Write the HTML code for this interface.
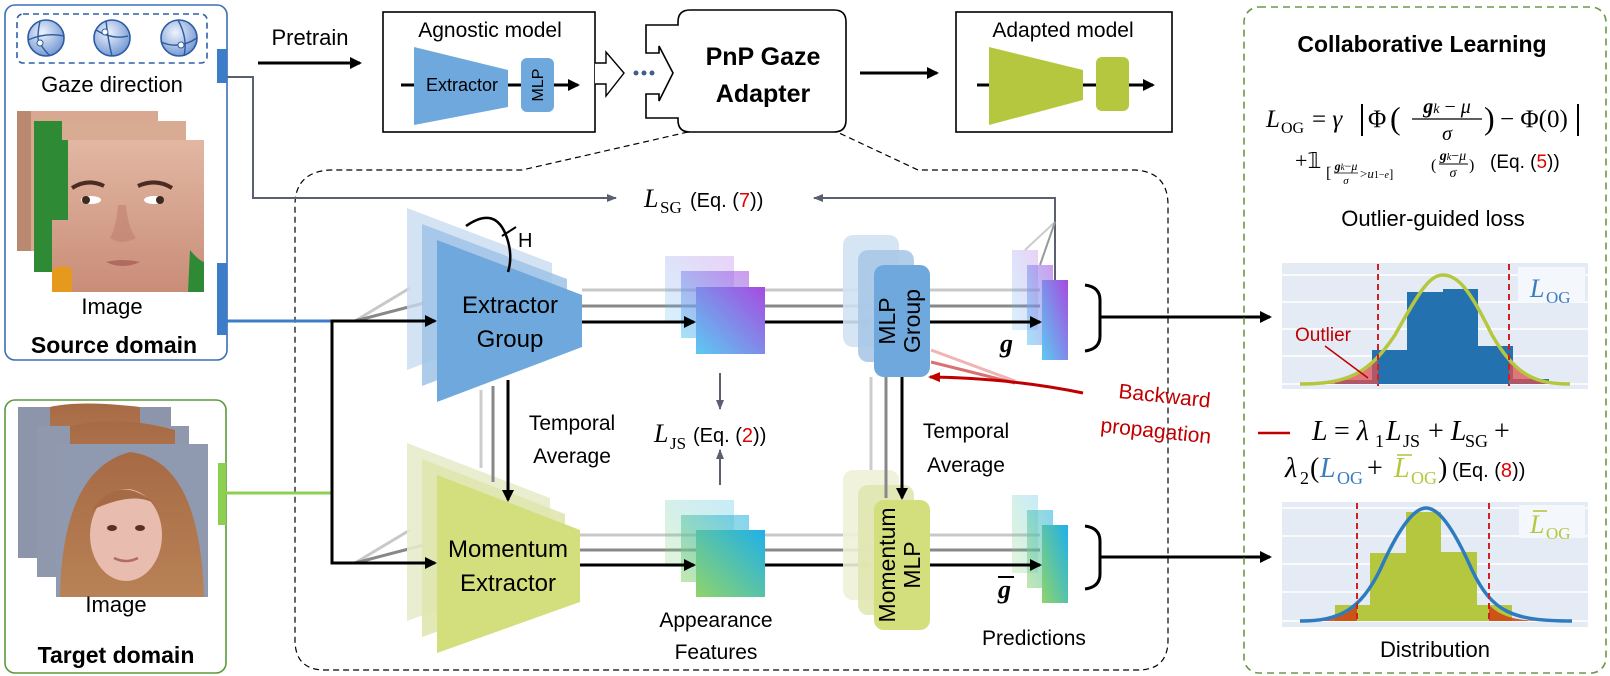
<!DOCTYPE html>
<html><head><meta charset="utf-8"><style>
html,body{margin:0;padding:0;background:#fff;}
svg{display:block;}
.s{font-family:"Liberation Sans",sans-serif;}
.m{font-family:"Liberation Serif",serif;font-style:italic;}
.r{font-family:"Liberation Serif",serif;}
</style></head><body>
<svg width="1610" height="676" viewBox="0 0 1610 676" xmlns="http://www.w3.org/2000/svg">
<defs>
<marker id="ab" markerWidth="12" markerHeight="12" refX="10" refY="6" orient="auto" markerUnits="userSpaceOnUse"><path d="M0,0 L12,6 L0,12 Z" fill="#000"/></marker>
<marker id="ag" markerWidth="10" markerHeight="10" refX="9" refY="5" orient="auto" markerUnits="userSpaceOnUse"><path d="M0,1 L10,5 L0,9 Z" fill="#5a6070"/></marker>
<marker id="ar" markerWidth="12" markerHeight="10" refX="10" refY="5" orient="auto" markerUnits="userSpaceOnUse"><path d="M0,0 L12,5 L0,10 Z" fill="#c00000"/></marker>
<linearGradient id="gp" x1="0" y1="1" x2="1" y2="0"><stop offset="0" stop-color="#5ccaf2"/><stop offset="1" stop-color="#a64be0"/></linearGradient>
<linearGradient id="gg" x1="0" y1="1" x2="1" y2="0"><stop offset="0" stop-color="#8fd46a"/><stop offset="1" stop-color="#1fb0ea"/></linearGradient>
<radialGradient id="sph" cx="0.4" cy="0.35" r="0.7"><stop offset="0" stop-color="#eef3fb"/><stop offset="1" stop-color="#6f95d2"/></radialGradient>
<linearGradient id="skin" x1="0" y1="0" x2="0" y2="1"><stop offset="0" stop-color="#e2b7a2"/><stop offset="1" stop-color="#c98d78"/></linearGradient>
<linearGradient id="hair" x1="0" y1="0" x2="0" y2="1"><stop offset="0" stop-color="#a66a45"/><stop offset="1" stop-color="#b98256"/></linearGradient>
</defs>

<!-- Source domain -->
<rect x="5" y="5" width="222" height="355" rx="10" fill="#fff" stroke="#3b6eb5" stroke-width="1.6"/>
<rect x="17" y="14" width="190" height="49" rx="6" fill="none" stroke="#2f5fa8" stroke-width="1.6" stroke-dasharray="6,4"/>
<g stroke="#2d5aa0" stroke-width="1.6" fill="url(#sph)">
<circle cx="46" cy="38" r="18"/><circle cx="112" cy="38" r="18"/><circle cx="179" cy="38" r="18"/></g>
<g stroke="#2d5aa0" stroke-width="1.4" fill="none">
<path d="M28,40 Q46,32 64,36"/><path d="M40,21 Q36,40 40,44 Q46,52 50,56"/>
<path d="M96,30 Q112,40 128,36"/><path d="M106,21 Q108,40 112,56"/>
<path d="M161,42 Q179,50 197,38"/><path d="M178,20 Q188,38 184,56"/></g>
<g fill="#fff" stroke="#2d5aa0" stroke-width="1"><circle cx="40" cy="43" r="3"/><circle cx="105" cy="32" r="3"/><circle cx="181" cy="45" r="3"/></g>
<text x="112" y="92" class="s" font-size="22" text-anchor="middle">Gaze direction</text>
<!-- faces -->
<rect x="17" y="111" width="141" height="140" fill="#d8a990"/>
<rect x="17" y="111" width="14" height="140" fill="#b98a70"/>
<rect x="34" y="121" width="152" height="151" fill="#d8ab93"/>
<rect x="34" y="121" width="28" height="151" fill="#2e8a34"/>
<rect x="52" y="140" width="152" height="152" fill="url(#skin)"/>
<path d="M52,140 H68 V220 H52 Z" fill="#2e8a34"/>
<path d="M52,270 Q64,262 72,270 V292 H52 Z" fill="#e59a1e"/>
<path d="M190,250 Q198,260 204,262 V292 H188 Z" fill="#2e8a34"/>
<path d="M72,188 Q88,178 104,186" stroke="#4a2c22" stroke-width="4" fill="none"/>
<path d="M138,186 Q156,178 172,188" stroke="#4a2c22" stroke-width="4" fill="none"/>
<ellipse cx="91" cy="200" rx="10" ry="4" fill="#fff"/><circle cx="86" cy="200" r="4" fill="#3a2a20"/>
<ellipse cx="154" cy="200" rx="10" ry="4" fill="#fff"/><circle cx="160" cy="200" r="4" fill="#3a2a20"/>
<path d="M118,205 Q116,228 110,238 Q122,246 136,238 Q128,228 126,205" fill="#c08070" opacity="0.6"/>
<path d="M106,262 Q122,258 140,262 Q122,270 106,262 Z" fill="#b06a62"/>
<text x="112" y="314" class="s" font-size="22" text-anchor="middle">Image</text>
<text x="114" y="353" class="s" font-size="23" font-weight="bold" text-anchor="middle">Source domain</text>
<rect x="217" y="49" width="10" height="34" fill="#3d7cc9"/>
<rect x="217" y="263" width="10" height="72" fill="#3d7cc9"/>

<!-- Target domain -->
<rect x="5" y="400" width="221" height="273" rx="10" fill="#fff" stroke="#5a9a3a" stroke-width="1.6"/>
<rect x="18" y="407" width="153" height="151" fill="#8c95aa"/>
<path d="M50,407 Q80,400 140,407 V470 H50 Z" fill="url(#hair)"/>
<rect x="37" y="426" width="152" height="151" fill="#8f98ad"/>
<path d="M70,426 Q120,415 175,430 V500 H70 Z" fill="url(#hair)"/>
<rect x="56" y="444" width="152" height="153" fill="#8f9ab0"/>
<path d="M60,597 Q62,470 130,452 Q200,460 204,597 Z" fill="url(#hair)"/>
<ellipse cx="126" cy="535" rx="36" ry="46" fill="#e8bcae"/>
<path d="M92,510 Q120,470 160,508 Q140,488 92,510 Z" fill="#a66a45"/>
<ellipse cx="112" cy="528" rx="5" ry="3" fill="#5a3020"/><ellipse cx="140" cy="528" rx="5" ry="3" fill="#5a3020"/>
<path d="M114,558 Q126,564 138,558" stroke="#b06a6a" stroke-width="2.5" fill="none"/>
<text x="116" y="612" class="s" font-size="22" text-anchor="middle">Image</text>
<text x="116" y="663" class="s" font-size="23" font-weight="bold" text-anchor="middle">Target domain</text>
<rect x="218" y="463" width="8" height="62" fill="#8cd050"/>

<!-- top row -->
<text x="310" y="45" class="s" font-size="22" text-anchor="middle">Pretrain</text>
<line x1="258" y1="63" x2="360" y2="63" stroke="#000" stroke-width="3" marker-end="url(#ab)"/>
<rect x="383" y="12" width="212" height="120" fill="#fff" stroke="#000" stroke-width="1.6"/>
<text x="490" y="37" class="s" font-size="21" text-anchor="middle">Agnostic model</text>
<line x1="401" y1="85" x2="578" y2="85" stroke="#000" stroke-width="3" marker-end="url(#ab)"/>
<path d="M414,47 L508,70 L508,107 L414,125 Z" fill="#6fa8dc"/>
<text x="462" y="91" class="s" font-size="18" text-anchor="middle">Extractor</text>
<rect x="521" y="58" width="33" height="54" rx="6" fill="#6fa8dc"/>
<text x="0" y="0" class="s" font-size="16" text-anchor="middle" transform="translate(543,85) rotate(-90)">MLP</text>
<path d="M595,63 H606 V52 L624,73 L606,96 V84 H595" fill="#fff" stroke="#000" stroke-width="1.4"/>
<g fill="#3e5f8a"><circle cx="636" cy="73" r="2.5"/><circle cx="644" cy="73" r="2.5"/><circle cx="652" cy="73" r="2.5"/></g>
<path d="M690,10 H834 Q846,10 846,22 V120 Q846,132 834,132 H690 Q678,132 678,120 V118 H646 V94 H659 V101 L673,73 L659,46 V53 H646 V25 H678 V22 Q678,10 690,10 Z" fill="#fff" stroke="#000" stroke-width="1.6"/>
<text x="763" y="65" class="s" font-size="25" font-weight="bold" text-anchor="middle">PnP Gaze</text>
<text x="763" y="102" class="s" font-size="25" font-weight="bold" text-anchor="middle">Adapter</text>
<line x1="860" y1="73" x2="937" y2="73" stroke="#000" stroke-width="3" marker-end="url(#ab)"/>
<rect x="956" y="12" width="216" height="120" fill="#fff" stroke="#000" stroke-width="1.6"/>
<text x="1063" y="37" class="s" font-size="21" text-anchor="middle">Adapted model</text>
<line x1="977" y1="85" x2="1153" y2="85" stroke="#000" stroke-width="3" marker-end="url(#ab)"/>
<path d="M989,47 L1083,70 L1083,100 L989,125 Z" fill="#b5c73f"/>
<rect x="1096" y="57" width="33" height="54" rx="6" fill="#b5c73f"/>

<!-- big dashed region -->
<path d="M688,132 L522,170 H330 Q295,172 295,205 V640 Q295,670 325,670 H1138 Q1168,670 1168,640 V205 Q1168,172 1135,170 H918 L837,132" fill="none" stroke="#000" stroke-width="1.2" stroke-dasharray="6,4"/>

<!-- LSG line -->
<polyline points="227,77 253,77 253,198 616,198" fill="none" stroke="#5a6070" stroke-width="2" marker-end="url(#ag)"/>
<text x="644" y="207" class="m" font-size="26">L</text>
<text x="660" y="213" class="r" font-size="17">SG</text>
<text x="690" y="207" class="s" font-size="20">(Eq. (<tspan fill="#e00000">7</tspan>))</text>
<polyline points="1055,280 1055,198 814,198" fill="none" stroke="#5a6070" stroke-width="2" marker-end="url(#ag)"/>
<line x1="1055" y1="222" x2="1025" y2="250" stroke="#ccc" stroke-width="2"/>
<line x1="1055" y1="222" x2="1040" y2="265" stroke="#999" stroke-width="2"/>

<!-- input lines -->
<line x1="227" y1="321" x2="332" y2="321" stroke="#3d7cc9" stroke-width="3"/>
<line x1="226" y1="493" x2="332" y2="493" stroke="#8cd050" stroke-width="3"/>
<line x1="332" y1="319.5" x2="332" y2="564.5" stroke="#000" stroke-width="3"/>
<line x1="355" y1="321" x2="410" y2="288" stroke="#c8c8c8" stroke-width="3"/>
<line x1="355" y1="321" x2="424" y2="303" stroke="#888" stroke-width="3"/>
<line x1="355" y1="563" x2="410" y2="530" stroke="#c8c8c8" stroke-width="3"/>
<line x1="355" y1="563" x2="424" y2="545" stroke="#888" stroke-width="3"/>

<!-- Extractor group -->
<path d="M407,208 L552,263 L552,315 L407,370 Z" fill="#c8dcf0" opacity="0.8"/>
<path d="M422,224 L567,279 L567,331 L422,386 Z" fill="#9fc3e6" opacity="0.85"/>
<line x1="332" y1="321" x2="435" y2="321" stroke="#000" stroke-width="3" marker-end="url(#ab)"/>
<path d="M437,240 L582,295 L582,347 L437,402 Z" fill="#6fa8dc"/>
<text x="510" y="313" class="s" font-size="24" text-anchor="middle">Extractor</text>
<text x="510" y="347" class="s" font-size="24" text-anchor="middle">Group</text>
<path d="M466,226 Q496,205 507,238 Q513,256 508,272" fill="none" stroke="#000" stroke-width="2.5"/>
<line x1="502" y1="236" x2="516" y2="227" stroke="#000" stroke-width="2"/>
<text x="518" y="247" class="s" font-size="20">H</text>

<!-- Momentum extractor -->
<path d="M407,443 L550,498 L550,570 L407,621 Z" fill="#e8eccb" opacity="0.9"/>
<path d="M422,459 L565,514 L565,586 L422,637 Z" fill="#dfe6ae" opacity="0.9"/>
<line x1="332" y1="563" x2="435" y2="563" stroke="#000" stroke-width="3" marker-end="url(#ab)"/>
<path d="M437,475 L580,530 L580,602 L437,653 Z" fill="#d3de7c"/>
<text x="508" y="557" class="s" font-size="24" text-anchor="middle">Momentum</text>
<text x="508" y="591" class="s" font-size="24" text-anchor="middle">Extractor</text>

<!-- vertical temporal avg 1 -->
<line x1="481" y1="390" x2="481" y2="468" stroke="#ccc" stroke-width="3"/>
<line x1="493" y1="386" x2="493" y2="482" stroke="#888" stroke-width="3"/>
<line x1="508" y1="380" x2="508" y2="500" stroke="#000" stroke-width="3" marker-end="url(#ab)"/>
<text x="572" y="430" class="s" font-size="21" text-anchor="middle">Temporal</text>
<text x="572" y="463" class="s" font-size="21" text-anchor="middle">Average</text>

<!-- row lines top -->
<g stroke-width="3">
<line x1="582" y1="290" x2="874" y2="290" stroke="#c8c8c8"/>
<line x1="582" y1="306" x2="874" y2="306" stroke="#888"/>
<line x1="930" y1="290" x2="1040" y2="290" stroke="#c8c8c8"/>
<line x1="930" y1="306" x2="1040" y2="306" stroke="#888"/>
<line x1="580" y1="535" x2="874" y2="535" stroke="#c8c8c8"/>
<line x1="580" y1="550" x2="874" y2="550" stroke="#888"/>
<line x1="930" y1="535" x2="1040" y2="535" stroke="#c8c8c8"/>
<line x1="930" y1="550" x2="1040" y2="550" stroke="#888"/>
</g>
<!-- features top -->
<rect x="665" y="256" width="69" height="67" fill="url(#gp)" opacity="0.25"/>
<rect x="681" y="271" width="68" height="67" fill="url(#gp)" opacity="0.55"/>
<line x1="582" y1="322" x2="694" y2="322" stroke="#000" stroke-width="3" marker-end="url(#ab)"/>
<rect x="696" y="287" width="69" height="67" fill="url(#gp)"/>
<line x1="765" y1="322" x2="872" y2="322" stroke="#000" stroke-width="3" marker-end="url(#ab)"/>
<!-- features bottom -->
<rect x="665" y="500" width="69" height="67" fill="url(#gg)" opacity="0.25"/>
<rect x="681" y="515" width="68" height="67" fill="url(#gg)" opacity="0.55"/>
<line x1="580" y1="565" x2="694" y2="565" stroke="#000" stroke-width="3" marker-end="url(#ab)"/>
<rect x="696" y="530" width="69" height="67" fill="url(#gg)"/>
<line x1="765" y1="565" x2="872" y2="565" stroke="#000" stroke-width="3" marker-end="url(#ab)"/>
<text x="716" y="627" class="s" font-size="21" text-anchor="middle">Appearance</text>
<text x="716" y="659" class="s" font-size="21" text-anchor="middle">Features</text>

<!-- LJS -->
<line x1="720" y1="373" x2="720" y2="409" stroke="#5a6070" stroke-width="2" marker-end="url(#ag)"/>
<line x1="720" y1="485" x2="720" y2="450" stroke="#5a6070" stroke-width="2" marker-end="url(#ag)"/>
<text x="654" y="442" class="m" font-size="26">L</text>
<text x="670" y="449" class="r" font-size="17">JS</text>
<text x="693" y="442" class="s" font-size="20">(Eq. (<tspan fill="#e00000">2</tspan>))</text>

<!-- MLP group -->
<rect x="843" y="235" width="56" height="112" rx="10" fill="#d2e2f2" opacity="0.9"/>
<rect x="858" y="250" width="56" height="112" rx="10" fill="#a9c8e8" opacity="0.9"/>
<rect x="874" y="265" width="56" height="112" rx="10" fill="#6fa8dc"/>
<text class="s" font-size="23" text-anchor="middle" transform="translate(895,321) rotate(-90)">MLP</text>
<text class="s" font-size="23" text-anchor="middle" transform="translate(920,321) rotate(-90)">Group</text>
<!-- momentum MLP -->
<rect x="843" y="470" width="56" height="130" rx="10" fill="#eef1d8" opacity="0.9"/>
<rect x="858" y="485" width="56" height="130" rx="10" fill="#e0e7b0" opacity="0.9"/>
<rect x="874" y="500" width="56" height="130" rx="10" fill="#d3de7c"/>
<text class="s" font-size="23" text-anchor="middle" transform="translate(895,565) rotate(-90)">Momentum</text>
<text class="s" font-size="23" text-anchor="middle" transform="translate(920,565) rotate(-90)">MLP</text>
<line x1="871" y1="377" x2="871" y2="470" stroke="#ccc" stroke-width="3"/>
<line x1="886" y1="377" x2="886" y2="498" stroke="#888" stroke-width="3"/>
<line x1="902" y1="377" x2="902" y2="498" stroke="#000" stroke-width="3" marker-end="url(#ab)"/>
<text x="966" y="438" class="s" font-size="21" text-anchor="middle">Temporal</text>
<text x="966" y="472" class="s" font-size="21" text-anchor="middle">Average</text>

<!-- predictions -->
<rect x="1012" y="250" width="26" height="80" fill="url(#gp)" opacity="0.25"/>
<rect x="1027" y="265" width="26" height="80" fill="url(#gp)" opacity="0.55"/>
<line x1="930" y1="322" x2="1040" y2="322" stroke="#000" stroke-width="3" marker-end="url(#ab)"/>
<rect x="1042" y="280" width="26" height="80" fill="url(#gp)"/>
<rect x="1012" y="495" width="26" height="78" fill="url(#gg)" opacity="0.25"/>
<rect x="1027" y="510" width="26" height="78" fill="url(#gg)" opacity="0.55"/>
<line x1="930" y1="565" x2="1040" y2="565" stroke="#000" stroke-width="3" marker-end="url(#ab)"/>
<rect x="1042" y="525" width="26" height="78" fill="url(#gg)"/>
<text x="1000" y="352" class="r" font-size="26" font-weight="bold" font-style="italic">g</text>
<text x="998" y="598" class="r" font-size="26" font-weight="bold" font-style="italic">g</text>
<line x1="998" y1="577" x2="1014" y2="577" stroke="#000" stroke-width="2"/>
<text x="1034" y="645" class="s" font-size="21" text-anchor="middle">Predictions</text>
<path d="M1085,285 Q1100,287 1100,300 V336 Q1100,349 1085,351" fill="none" stroke="#000" stroke-width="3"/>
<path d="M1085,526 Q1100,528 1100,541 V574 Q1100,587 1085,589" fill="none" stroke="#000" stroke-width="3"/>
<line x1="1100" y1="317" x2="1270" y2="317" stroke="#000" stroke-width="3" marker-end="url(#ab)"/>
<line x1="1100" y1="557" x2="1270" y2="557" stroke="#000" stroke-width="3" marker-end="url(#ab)"/>

<!-- backward -->
<line x1="931" y1="350" x2="1015" y2="381" stroke="#f0b4b4" stroke-width="3"/>
<line x1="931" y1="362" x2="1015" y2="383" stroke="#d87272" stroke-width="3"/>
<path d="M1083,393 Q1010,378 930,377" fill="none" stroke="#c00000" stroke-width="3" marker-end="url(#ar)"/>
<text class="s" font-size="21" fill="#c00000" transform="translate(1118,398) rotate(6)">Backward</text>
<text class="s" font-size="21" fill="#c00000" transform="translate(1100,432) rotate(6)">propagation</text>
<line x1="1258" y1="433" x2="1290" y2="433" stroke="#c00000" stroke-width="2.5"/>

<!-- Collaborative learning -->
<rect x="1244" y="7" width="362" height="666" rx="15" fill="none" stroke="#6a9a4a" stroke-width="1.6" stroke-dasharray="7,5"/>
<text x="1422" y="52" class="s" font-size="23" font-weight="bold" text-anchor="middle">Collaborative Learning</text>
<!-- formula 1 -->
<text x="1266" y="127" class="m" font-size="25">L</text>
<text x="1281" y="133" class="r" font-size="16">OG</text>
<text x="1312" y="127" class="r" font-size="25">= <tspan font-style="italic">γ</tspan></text>
<line x1="1362" y1="104" x2="1362" y2="136" stroke="#000" stroke-width="2"/>
<text x="1368" y="127" class="r" font-size="25">Φ</text>
<text x="1390" y="129" class="r" font-size="32">(</text>
<text x="1447" y="113" class="r" font-size="20" text-anchor="middle"><tspan font-weight="bold" font-style="italic">g</tspan><tspan font-style="italic" font-size="14">k</tspan> − <tspan font-style="italic">μ</tspan></text>
<line x1="1412" y1="119" x2="1482" y2="119" stroke="#000" stroke-width="1.3"/>
<text x="1447" y="140" class="m" font-size="20" text-anchor="middle">σ</text>
<text x="1484" y="129" class="r" font-size="32">)</text>
<text x="1500" y="127" class="r" font-size="25">− Φ(0)</text>
<line x1="1578" y1="104" x2="1578" y2="136" stroke="#000" stroke-width="2"/>
<!-- formula 2 -->
<text x="1295" y="168" class="r" font-size="22">+𝟙</text>
<text x="1326" y="178" class="r" font-size="16">[</text>
<text x="1346" y="170" class="r" font-size="12" text-anchor="middle"><tspan font-weight="bold" font-style="italic">g</tspan><tspan font-style="italic" font-size="9">k</tspan>−<tspan font-style="italic">μ</tspan></text>
<line x1="1334" y1="173" x2="1358" y2="173" stroke="#000" stroke-width="0.8"/>
<text x="1346" y="184" class="m" font-size="11" text-anchor="middle">σ</text>
<text x="1360" y="178" class="r" font-size="13">&gt;<tspan font-style="italic">u</tspan><tspan font-size="10">1−<tspan font-style="italic">e</tspan></tspan>]</text>
<text x="1431" y="170" class="r" font-size="16">(</text>
<text x="1453" y="160" class="r" font-size="14" text-anchor="middle"><tspan font-weight="bold" font-style="italic">g</tspan><tspan font-style="italic" font-size="10">k</tspan>−<tspan font-style="italic">μ</tspan></text>
<line x1="1439" y1="164" x2="1468" y2="164" stroke="#000" stroke-width="0.9"/>
<text x="1453" y="177" class="m" font-size="14" text-anchor="middle">σ</text>
<text x="1469" y="170" class="r" font-size="16">)</text>
<text x="1490" y="168" class="s" font-size="19">(Eq. (<tspan fill="#e00000">5</tspan>))</text>
<text x="1433" y="226" class="s" font-size="22" text-anchor="middle">Outlier-guided loss</text>

<!-- chart 1 -->
<rect x="1282" y="263" width="306" height="126" fill="#e4ebf5"/>
<g stroke="#fff" stroke-width="1.5"><line x1="1282" y1="275" x2="1588" y2="275"/><line x1="1282" y1="302" x2="1588" y2="302"/><line x1="1282" y1="329" x2="1588" y2="329"/><line x1="1282" y1="356" x2="1588" y2="356"/><line x1="1282" y1="384" x2="1588" y2="384"/></g>
<g fill="#2471b0">
<rect x="1335" y="380" width="37" height="4"/><rect x="1372" y="350" width="35" height="34"/><rect x="1407" y="292" width="36" height="92"/><rect x="1443" y="289" width="35" height="95"/><rect x="1478" y="346" width="35" height="38"/><rect x="1513" y="379" width="36" height="5"/></g>
<path d="M1300,384 C1340,384 1355,378 1378,360 L1378,384 Z" fill="#e05050" opacity="0.75"/>
<path d="M1509,360 C1530,378 1545,384 1570,384 L1509,384 Z" fill="#e05050" opacity="0.75"/>
<path d="M1300,384 C1350,384 1370,372 1395,335 C1420,290 1430,275 1443,275 C1458,275 1470,290 1492,335 C1515,375 1535,384 1570,384" fill="none" stroke="#b5c73f" stroke-width="3.5"/>
<g stroke="#d02020" stroke-width="2" stroke-dasharray="6,4"><line x1="1378" y1="264" x2="1378" y2="386"/><line x1="1509" y1="264" x2="1509" y2="386"/></g>
<rect x="1518" y="267" width="67" height="35" fill="#f4f7fb"/>
<text x="1530" y="297" class="m" font-size="26" fill="#3a7cc0">L</text>
<text x="1546" y="303" class="r" font-size="17" fill="#3a7cc0">OG</text>
<text x="1295" y="341" class="s" font-size="19" fill="#c00000">Outlier</text>
<line x1="1325" y1="346" x2="1368" y2="378" stroke="#c00000" stroke-width="1.5"/>

<!-- total loss -->
<text x="1312" y="440" class="m" font-size="28">L</text>
<text x="1334" y="440" class="r" font-size="28">= <tspan font-style="italic">λ</tspan></text>
<text x="1375" y="447" class="r" font-size="18">1</text>
<text x="1386" y="440" class="m" font-size="28">L</text>
<text x="1403" y="447" class="r" font-size="18">JS</text>
<text x="1428" y="440" class="r" font-size="28">+ <tspan font-style="italic">L</tspan></text>
<text x="1465" y="447" class="r" font-size="18">SG</text>
<text x="1494" y="440" class="r" font-size="28">+</text>
<text x="1285" y="477" class="m" font-size="28">λ</text>
<text x="1300" y="484" class="r" font-size="18">2</text>
<text x="1310" y="477" class="r" font-size="28">(</text>
<text x="1320" y="477" class="m" font-size="28" fill="#3a7cc0">L</text>
<text x="1337" y="484" class="r" font-size="18" fill="#3a7cc0">OG</text>
<text x="1367" y="477" class="r" font-size="28">+</text>
<text x="1394" y="477" class="m" font-size="28" fill="#b5c73f">L</text>
<line x1="1397" y1="455" x2="1412" y2="455" stroke="#b5c73f" stroke-width="1.6"/>
<text x="1411" y="484" class="r" font-size="18" fill="#b5c73f">OG</text>
<text x="1438" y="477" class="r" font-size="28">)</text>
<text x="1452" y="477" class="s" font-size="20">(Eq. (<tspan fill="#e00000">8</tspan>))</text>

<!-- chart 2 -->
<rect x="1282" y="502" width="306" height="125" fill="#e4ebf5"/>
<g stroke="#fff" stroke-width="1.5"><line x1="1282" y1="508" x2="1588" y2="508"/><line x1="1282" y1="536" x2="1588" y2="536"/><line x1="1282" y1="564" x2="1588" y2="564"/><line x1="1282" y1="592" x2="1588" y2="592"/><line x1="1282" y1="621" x2="1588" y2="621"/></g>
<g fill="#b5c73f">
<rect x="1335" y="605" width="35" height="16"/><rect x="1370" y="553" width="36" height="68"/><rect x="1406" y="512" width="35" height="109"/><rect x="1441" y="552" width="36" height="69"/><rect x="1477" y="605" width="35" height="16"/></g>
<path d="M1300,621 C1330,621 1345,617 1357,605 L1357,621 Z" fill="#d04010" opacity="0.85"/>
<path d="M1489,605 C1500,616 1515,621 1545,621 L1489,621 Z" fill="#d04010" opacity="0.85"/>
<path d="M1300,621 C1340,621 1360,610 1380,570 C1400,525 1415,508 1426,508 C1438,508 1452,525 1472,570 C1492,612 1512,621 1572,621" fill="none" stroke="#2e7cc0" stroke-width="3.5"/>
<g stroke="#d02020" stroke-width="2" stroke-dasharray="6,4"><line x1="1357" y1="503" x2="1357" y2="622"/><line x1="1489" y1="503" x2="1489" y2="622"/></g>
<rect x="1519" y="505" width="66" height="33" fill="#f4f7fb"/>
<text x="1530" y="533" class="m" font-size="26" fill="#b5c73f">L</text>
<line x1="1533" y1="511" x2="1547" y2="511" stroke="#b5c73f" stroke-width="1.6"/>
<text x="1546" y="539" class="r" font-size="17" fill="#b5c73f">OG</text>
<text x="1435" y="657" class="s" font-size="22" text-anchor="middle">Distribution</text>
</svg>
</body></html>
